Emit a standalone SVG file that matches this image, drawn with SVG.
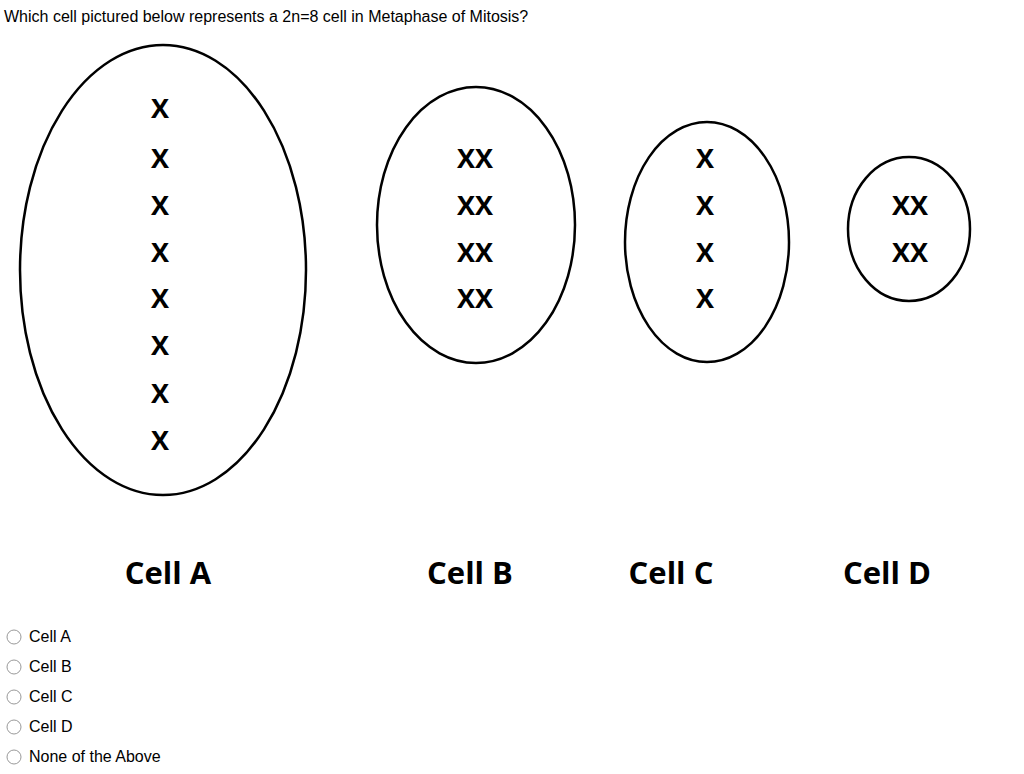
<svg xmlns="http://www.w3.org/2000/svg" width="1024" height="774" viewBox="0 0 1024 774">
<style>
.q{font-family:"Liberation Sans",Arial,sans-serif;font-size:16px;fill:#000}
.x{font-family:"Open Sans","Liberation Sans",sans-serif;font-weight:bold;font-size:27px;fill:#000;text-anchor:middle}
.l{font-family:"Open Sans","Liberation Sans",sans-serif;font-weight:bold;font-size:31px;fill:#000;text-anchor:middle}
.c{fill:none;stroke:#000;stroke-width:2.5}
.r{fill:#fff;stroke:#999;stroke-width:1}
</style>
<rect width="1024" height="774" fill="#fff"/>
<text class="q" x="4" y="22">Which cell pictured below represents a 2n=8 cell in Metaphase of Mitosis?</text>
<g id="cellA">
<ellipse class="c" cx="163" cy="270" rx="143" ry="225"/>
<text class="x" x="160" y="118">X</text><text class="x" x="160" y="168">X</text><text class="x" x="160" y="215">X</text><text class="x" x="160" y="262">X</text><text class="x" x="160" y="308">X</text><text class="x" x="160" y="355">X</text><text class="x" x="160" y="403">X</text><text class="x" x="160" y="450">X</text>
<text class="l" x="168" y="584">Cell A</text>
</g>
<g id="cellB">
<ellipse class="c" cx="476" cy="225" rx="99" ry="138"/>
<text class="x" x="475" y="168">XX</text><text class="x" x="475" y="215">XX</text><text class="x" x="475" y="262">XX</text><text class="x" x="475" y="308">XX</text>
<text class="l" x="470" y="584">Cell  B</text>
</g>
<g id="cellC">
<ellipse class="c" cx="707" cy="242" rx="82" ry="120"/>
<text class="x" x="705" y="168">X</text><text class="x" x="705" y="215">X</text><text class="x" x="705" y="262">X</text><text class="x" x="705" y="308">X</text>
<text class="l" x="671" y="584">Cell C</text>
</g>
<g id="cellD">
<ellipse class="c" cx="909" cy="229" rx="61" ry="72"/>
<text class="x" x="910" y="215">XX</text><text class="x" x="910" y="262">XX</text>
<text class="l" x="887" y="584">Cell D</text>
</g>
<g id="options">
<circle class="r" cx="14" cy="637" r="7"/><text class="q" x="29" y="642">Cell A</text>
<circle class="r" cx="14" cy="667" r="7"/><text class="q" x="29" y="672">Cell B</text>
<circle class="r" cx="14" cy="697" r="7"/><text class="q" x="29" y="702">Cell C</text>
<circle class="r" cx="14" cy="727" r="7"/><text class="q" x="29" y="732">Cell D</text>
<circle class="r" cx="14" cy="757" r="7"/><text class="q" x="29" y="762">None of the Above</text>
</g>
</svg>
